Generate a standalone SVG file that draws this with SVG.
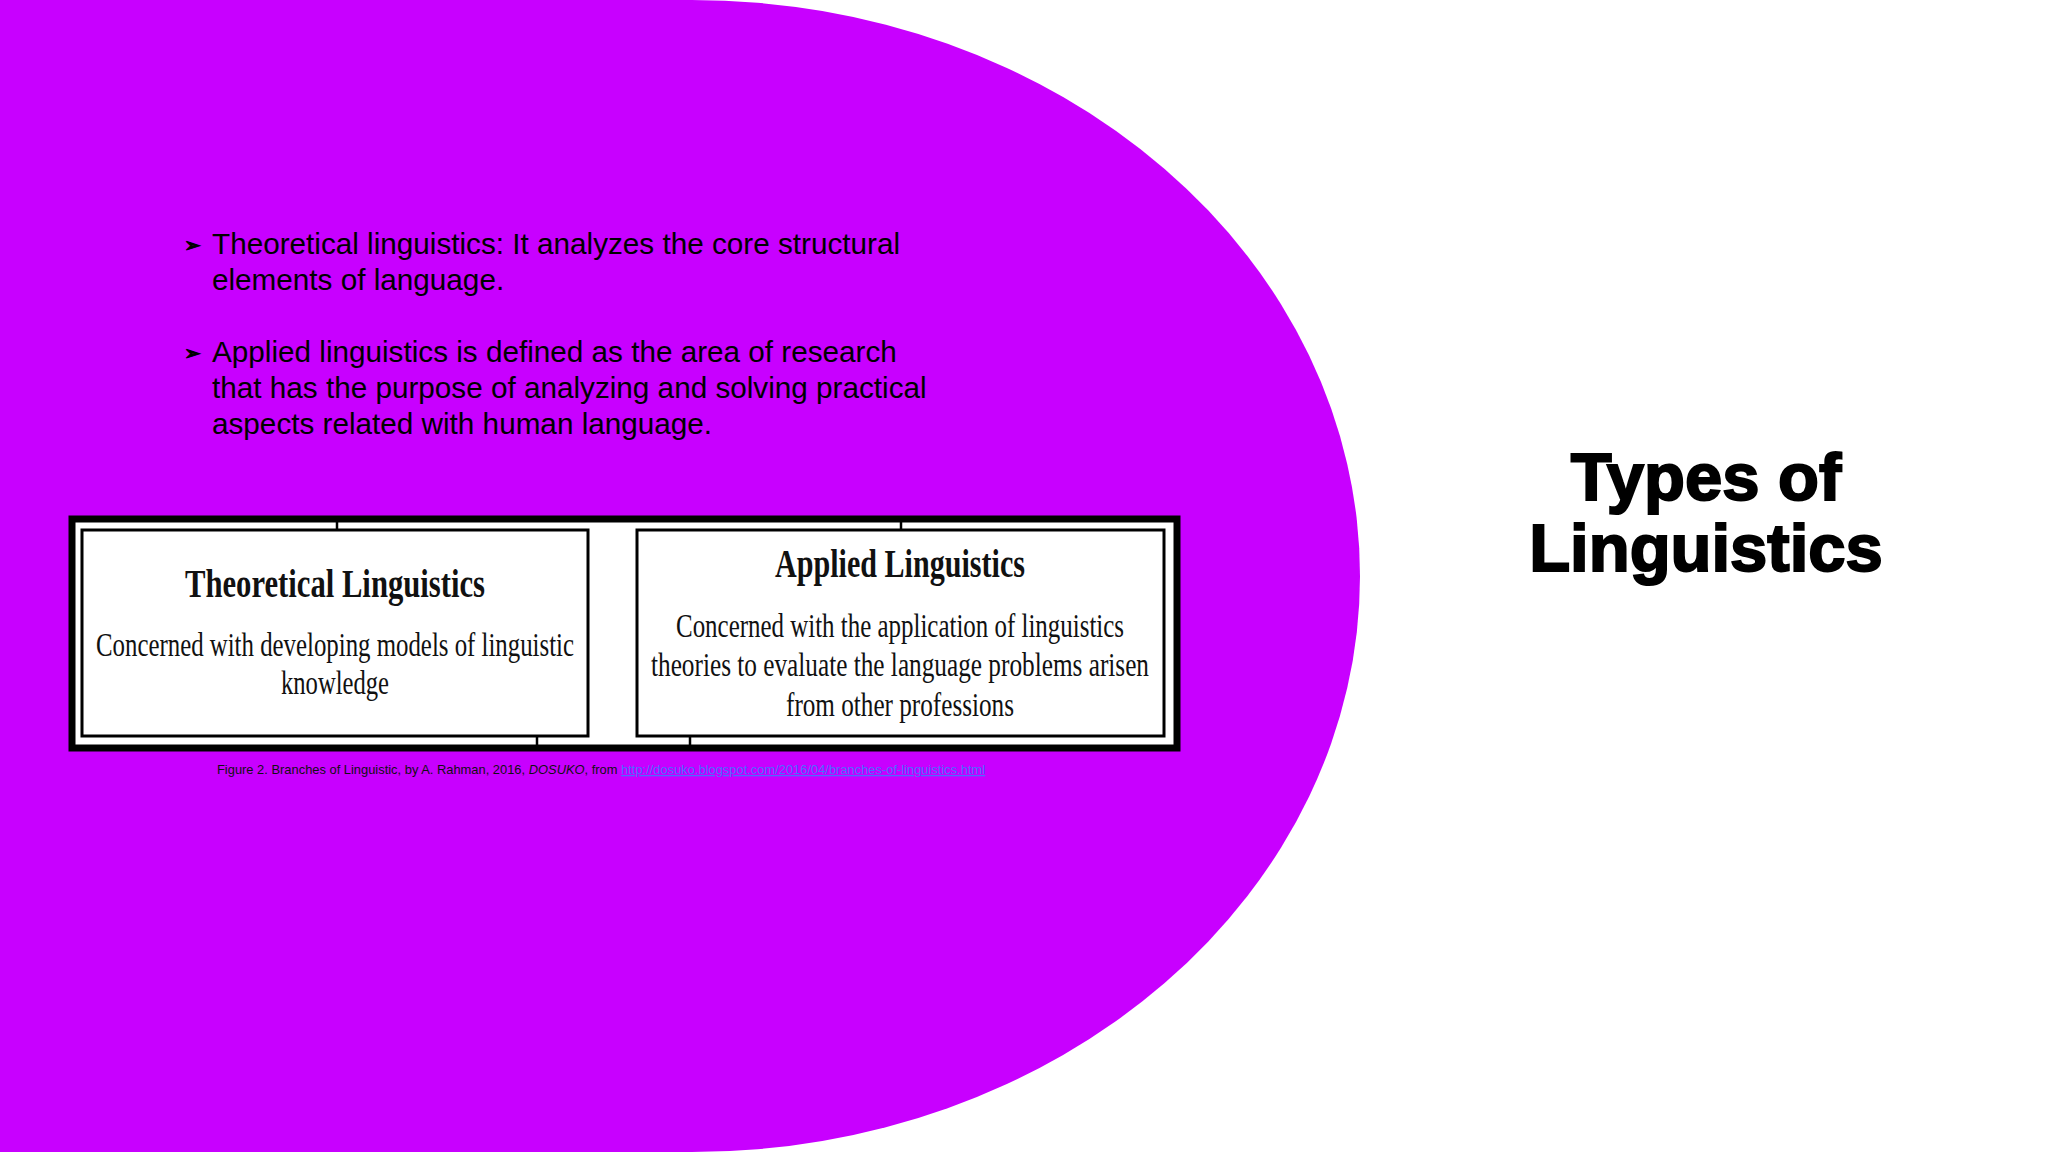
<svg xmlns="http://www.w3.org/2000/svg" width="2048" height="1152" viewBox="0 0 2048 1152">
<style>
.b{font-family:"Liberation Sans",Arial,sans-serif;font-size:29.7px;fill:#000}
.bu{font-family:"DejaVu Sans",sans-serif;font-size:20px;fill:#000;stroke:#000;stroke-width:1}
.s{font-family:"Liberation Serif","Times New Roman",serif;fill:#111}
.h{font-weight:bold;font-size:40px}
.t{font-size:33px}
.ln{stroke:#000;stroke-width:2.5}
</style>
<rect width="2048" height="1152" fill="#fff"/>
<path d="M0,0 H692 A668,576 0 0 1 692,1152 H0 Z" fill="#c800ff"/>
<g id="bullets">
<text class="bu" x="184" y="252">➢</text>
<text class="b" x="212" y="254">Theoretical linguistics: It analyzes the core structural</text>
<text class="b" x="212" y="290">elements of language.</text>
<text class="bu" x="184" y="360">➢</text>
<text class="b" x="212" y="362">Applied linguistics is defined as the area of research</text>
<text class="b" x="212" y="398">that has the purpose of analyzing and solving practical</text>
<text class="b" x="212" y="434">aspects related with human language.</text>
</g>
<g id="figure">
<rect x="72" y="519" width="1105" height="229" fill="#fff" stroke="#000" stroke-width="7"/>
<g id="connectors">
<line class="ln" x1="337" y1="519" x2="337" y2="529"/>
<line class="ln" x1="901" y1="519" x2="901" y2="529"/>
<line class="ln" x1="537" y1="737" x2="537" y2="748"/>
<line class="ln" x1="690" y1="737" x2="690" y2="748"/>
</g>
<g id="theoretical">
<rect x="82" y="530" width="506" height="206" fill="#fff" stroke="#000" stroke-width="3"/>
<text class="s h" x="335" y="597" text-anchor="middle" textLength="300" lengthAdjust="spacingAndGlyphs">Theoretical Linguistics</text>
<text class="s t" x="335" y="656" text-anchor="middle" textLength="478" lengthAdjust="spacingAndGlyphs">Concerned with developing models of linguistic</text>
<text class="s t" x="335" y="694" text-anchor="middle" textLength="108" lengthAdjust="spacingAndGlyphs">knowledge</text>
</g>
<g id="applied">
<rect x="637" y="530" width="527" height="206" fill="#fff" stroke="#000" stroke-width="3"/>
<text class="s h" x="900" y="577" text-anchor="middle" textLength="250" lengthAdjust="spacingAndGlyphs">Applied Linguistics</text>
<text class="s t" x="900" y="637" text-anchor="middle" textLength="448" lengthAdjust="spacingAndGlyphs">Concerned with the application of linguistics</text>
<text class="s t" x="900" y="676" text-anchor="middle" textLength="498" lengthAdjust="spacingAndGlyphs">theories to evaluate the language problems arisen</text>
<text class="s t" x="900" y="716" text-anchor="middle" textLength="228" lengthAdjust="spacingAndGlyphs">from other professions</text>
</g>
</g>
<text x="217" y="774" font-family="Liberation Sans,Arial,sans-serif" font-size="12.9" fill="#111">Figure 2. Branches of Linguistic, by A. Rahman, 2016, <tspan font-style="italic">DOSUKO</tspan>, from <tspan fill="#4a6cff" text-decoration="underline">http://dosuko.blogspot.com/2016/04/branches-of-linguistics.html</tspan></text>
<g id="title" font-family="Liberation Sans,Arial,sans-serif" font-weight="bold" font-size="67" text-anchor="middle" fill="#000" stroke="#000" stroke-width="2">
<text x="1706" y="500">Types of</text>
<text x="1706" y="571">Linguistics</text>
</g>
</svg>
